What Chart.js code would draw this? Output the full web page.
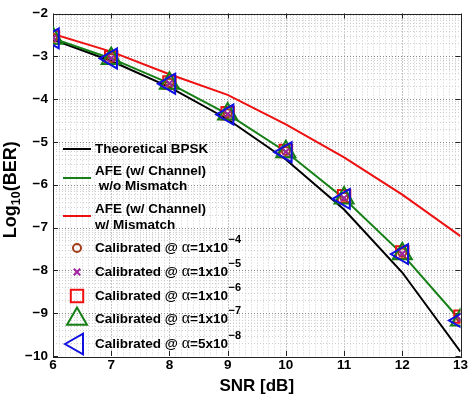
<!DOCTYPE html>
<html><head><meta charset="utf-8">
<script src="https://cdn.jsdelivr.net/npm/chart.js@4/dist/chart.umd.min.js"></script>
<style>html,body{margin:0;padding:0;background:#fff}#wrap{width:474px;height:397px}</style>
</head><body><div id="wrap"><canvas id="c" width="474" height="397"></canvas></div>
<script>
// ---- data ----
const snr = [6, 7, 8, 9, 10, 11, 12, 13];
const theoreticalBPSK = [-2.61, -3.11, -3.72, -4.47, -5.41, -6.58, -8.05, -9.9];
const afeNoMismatch   = [-2.58, -3.05, -3.63, -4.35, -5.23, -6.32, -7.62, -9.17];
const afeMismatch     = [-2.48, -2.89, -3.42, -3.9, -4.59, -5.36, -6.23, -7.2];
const cal1e4 = [-2.57, -3.04, -3.62, -4.33, -5.21, -6.28, -7.58, -9.10];
const cal1e5 = [-2.58, -3.05, -3.63, -4.35, -5.23, -6.31, -7.61, -9.15];
const cal1e6 = [-2.56, -3.03, -3.61, -4.33, -5.21, -6.27, -7.58, -9.08];
const cal1e7 = [-2.58, -3.05, -3.63, -4.35, -5.23, -6.31, -7.61, -9.16];
const cal5e8 = [-2.58, -3.05, -3.64, -4.36, -5.24, -6.33, -7.62, -9.17];
const xTickValues = [6, 7, 8, 9, 10, 11, 12, 13];
const yTickValues = [-10, -9, -8, -7, -6, -5, -4, -3, -2];
const xTitle = 'SNR [dB]';
const legendEntries = [
  {lines: ['Theoretical BPSK'], kind: 'line', color: '#000000'},
  {lines: ['AFE (w/ Channel)', ' w/o Mismatch'], kind: 'line', color: '#168016'},
  {lines: ['AFE (w/ Channel)', 'w/ Mismatch'], kind: 'line', color: '#ee1111'},
  {cal: ['1', '\u22124'], kind: 'circle', color: '#a33d1a'},
  {cal: ['1', '\u22125'], kind: 'crossRot', color: '#a020a0'},
  {cal: ['1', '\u22126'], kind: 'rect', color: '#ee1111'},
  {cal: ['1', '\u22127'], kind: 'triangle', color: '#168016'},
  {cal: ['5', '\u22128'], kind: 'triLeft', color: '#1010e0'}
];

const FONT = '"Liberation Sans", Arial, Helvetica, sans-serif';

function pts(ys){ return snr.map((x,i)=>({x:x, y:ys[i]})); }

function drawMarker(ctx, kind, x, y, color){
  ctx.save();
  ctx.strokeStyle = color; ctx.lineWidth = 2; ctx.setLineDash([]);
  ctx.beginPath();
  if (kind === 'circle'){ ctx.arc(x, y, 4, 0, Math.PI*2); }
  else if (kind === 'crossRot'){ const d=3.2; ctx.moveTo(x-d,y-d); ctx.lineTo(x+d,y+d); ctx.moveTo(x+d,y-d); ctx.lineTo(x-d,y+d); }
  else if (kind === 'rect'){ const s=6.2; ctx.rect(x-s,y-s,2*s,2*s); }
  else if (kind === 'triangle'){ const r=11.5; for(let k=0;k<3;k++){const a=k*2*Math.PI/3; const px=x+Math.sin(a)*r, py=y-Math.cos(a)*r; k?ctx.lineTo(px,py):ctx.moveTo(px,py);} ctx.closePath(); }
  else if (kind === 'triLeft'){ const r=12; for(let k=0;k<3;k++){const a=-Math.PI/2+k*2*Math.PI/3; const px=x+Math.sin(a)*r, py=y-Math.cos(a)*r; k?ctx.lineTo(px,py):ctx.moveTo(px,py);} ctx.closePath(); }
  ctx.stroke();
  ctx.restore();
}

const gridBoxPlugin = {
  id: 'gridBox',
  beforeDatasetsDraw(chart){
    const {ctx, chartArea:a, scales:{x, y}} = chart;
    ctx.save();
    ctx.lineWidth = 1;
    ctx.setLineDash([1, 2]);
    for (let i = 60; i <= 130; i++){
      const v = i/10; const major = i % 10 === 0;
      if (i === 60 || i === 130) continue;
      const px = Math.round(x.getPixelForValue(v)) + 0.5;
      ctx.strokeStyle = major ? '#8a8a8a' : '#cfcfcf';
      ctx.beginPath(); ctx.moveTo(px, a.top); ctx.lineTo(px, a.bottom); ctx.stroke();
    }
    for (let k = -10; k < -2; k++){
      for (let m = 1; m <= 9; m++){
        const v = k + Math.log10(m);
        if (v <= -10) continue;
        const py = Math.round(y.getPixelForValue(v)) + 0.5;
        ctx.strokeStyle = m === 1 ? '#8a8a8a' : '#cfcfcf';
        ctx.beginPath(); ctx.moveTo(a.left, py); ctx.lineTo(a.right, py); ctx.stroke();
      }
    }
    ctx.setLineDash([]);
    ctx.strokeStyle = '#222';
    ctx.lineWidth = 1;
    ctx.strokeRect(Math.round(a.left)+0.5, Math.round(a.top)+0.5, Math.round(a.right-a.left), Math.round(a.bottom-a.top));
    ctx.beginPath();
    xTickValues.forEach(v=>{ const px=Math.round(x.getPixelForValue(v))+0.5; ctx.moveTo(px,a.bottom); ctx.lineTo(px,a.bottom-5); ctx.moveTo(px,a.top); ctx.lineTo(px,a.top+5); });
    yTickValues.forEach(v=>{ const py=Math.round(y.getPixelForValue(v))+0.5; ctx.moveTo(a.left,py); ctx.lineTo(a.left+5,py); ctx.moveTo(a.right,py); ctx.lineTo(a.right-5,py); });
    ctx.stroke();
    ctx.restore();
  },
  afterDraw(chart){
    const {ctx, chartArea:a} = chart;
    ctx.save();
    ctx.fillStyle = '#000';
    ctx.font = 'bold 17px ' + FONT;
    ctx.textAlign = 'center'; ctx.textBaseline = 'middle';
    ctx.fillText(xTitle, (a.left + a.right)/2, 386);
    ctx.translate(10, (a.top + a.bottom)/2 + 5);
    ctx.rotate(-Math.PI/2);
    const big = 'bold 18px ' + FONT, small = 'bold 12.5px ' + FONT;
    ctx.font = big; const w1 = ctx.measureText('Log').width, w3 = ctx.measureText('(BER)').width;
    ctx.font = small; const w2 = ctx.measureText('10').width;
    let sx = -(w1 + w2 + w3)/2;
    ctx.textAlign = 'left'; ctx.textBaseline = 'alphabetic';
    ctx.font = big; ctx.fillText('Log', sx, 6); sx += w1;
    ctx.font = small; ctx.fillText('10', sx, 10); sx += w2;
    ctx.font = big; ctx.fillText('(BER)', sx, 6);
    ctx.restore();

    ctx.save();
    const lf = 'bold 13.5px ' + FONT;
    ctx.textBaseline = 'middle'; ctx.textAlign = 'left';
    const rows = [
      {mark:149, text:[149]},
      {mark:178, text:[171, 186]},
      {mark:216, text:[209, 225]},
      {mark:248, text:[248]},
      {mark:272, text:[272]},
      {mark:296, text:[296]},
      {mark:319, text:[319]},
      {mark:344, text:[344]}
    ];
    legendEntries.forEach((e, i)=>{
      const r = rows[i];
      if (e.kind === 'line'){
        ctx.strokeStyle = e.color; ctx.lineWidth = 2;
        ctx.beginPath(); ctx.moveTo(63, r.mark); ctx.lineTo(91, r.mark); ctx.stroke();
        ctx.fillStyle = '#000'; ctx.font = lf;
        e.lines.forEach((t, j)=> ctx.fillText(t, 95, r.text[j]));
      } else {
        drawMarker(ctx, e.kind, 77, r.mark, e.color);
        ctx.fillStyle = '#000';
        let tx = 95; const ty = r.text[0];
        ctx.font = lf; ctx.fillText('Calibrated @ ', tx, ty); tx += ctx.measureText('Calibrated @ ').width;
        ctx.font = '16px "Liberation Serif", "DejaVu Serif", serif'; ctx.fillText('\u03b1', tx, ty); tx += ctx.measureText('\u03b1').width;
        ctx.font = lf; const s = '=' + e.cal[0] + 'x10'; ctx.fillText(s, tx, ty); tx += ctx.measureText(s).width;
        ctx.font = 'bold 11px ' + FONT; ctx.fillText(e.cal[1], tx + 0.5, ty - 8);
      }
    });
    ctx.restore();
  }
};

function lineDs(label, data, color, order){
  return {label, data: pts(data), borderColor: color, backgroundColor: color, borderWidth: 2,
    pointRadius: 0, showLine: true, tension: 0, order};
}
function markDs(label, data, color, style, radius, rotation, order){
  return {label, data: pts(data), borderColor: color, backgroundColor: 'rgba(0,0,0,0)', showLine: false,
    pointStyle: style, pointRadius: radius, pointRotation: rotation, pointBorderWidth: 2,
    pointBackgroundColor: 'rgba(0,0,0,0)', pointHoverRadius: radius, order};
}

const tickFont = {family: FONT, size: 13.5, weight: 'bold'};

new Chart(document.getElementById('c'), {
  type: 'scatter',
  data: {
    datasets: [
      lineDs('Theoretical BPSK', theoreticalBPSK, '#000000', 8),
      lineDs('AFE (w/ Channel) w/o Mismatch', afeNoMismatch, '#168016', 7),
      lineDs('AFE (w/ Channel) w/ Mismatch', afeMismatch, '#ee1111', 6),
      markDs('Calibrated @ alpha=1x10^-4', cal1e4, '#a33d1a', 'circle', 4, 0, 5),
      markDs('Calibrated @ alpha=1x10^-5', cal1e5, '#a020a0', 'crossRot', 4.5, 0, 4),
      markDs('Calibrated @ alpha=1x10^-6', cal1e6, '#ee1111', 'rect', 8.8, 0, 3),
      markDs('Calibrated @ alpha=1x10^-7', cal1e7, '#168016', 'triangle', 11, 0, 2),
      markDs('Calibrated @ alpha=5x10^-8', cal5e8, '#1010e0', 'triangle', 11.5, -90, 1)
    ]
  },
  options: {
    responsive: false, devicePixelRatio: 1, animation: false,
    layout: {padding: {left: 0, top: 4, right: 11, bottom: 0}},
    plugins: {legend: {display: false}, tooltip: {enabled: false}},
    scales: {
      x: {
        type: 'linear', min: 6, max: 13,
        afterBuildTicks: s => { s.ticks = xTickValues.map(v=>({value:v})); },
        afterFit: s => { s.height = 41; s.paddingLeft = 0; s.paddingRight = 0; },
        grid: {display: false, drawTicks: false}, border: {display: false},
        ticks: {font: tickFont, color: '#000', padding: 1, maxRotation: 0, autoSkip: false,
          callback: v => String(v)}
      },
      y: {
        type: 'linear', min: -10, max: -2,
        afterBuildTicks: s => { s.ticks = yTickValues.map(v=>({value:v})); },
        afterFit: s => { s.width = 53; s.paddingTop = 0; s.paddingBottom = 0; },
        grid: {display: false, drawTicks: false}, border: {display: false},
        ticks: {font: tickFont, color: '#000', padding: 5, autoSkip: false,
          callback: v => (v < 0 ? '\u2212' + Math.abs(v) : String(v))}
      }
    }
  },
  plugins: [gridBoxPlugin]
});
</script>
</body></html>
